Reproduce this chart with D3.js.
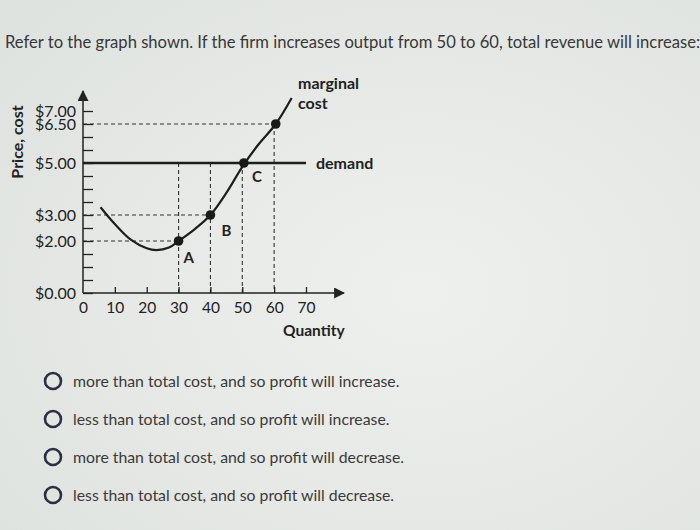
<!DOCTYPE html>
<html>
<head>
    <script src="https://d3js.org/d3.v7.min.js"></script>
    <style>
        body { margin: 0; background: #e8eae6; }
        text { font-family: Lato, "Open Sans", sans-serif; }
    </style>
</head>
<body>
<div id="grafik"></div>

<script>
    // chart values
    var question = "Refer to the graph shown. If the firm increases output from 50 to 60, total revenue will increase:";
    var answers = [
        "more than total cost, and so profit will increase.",
        "less than total cost, and so profit will increase.",
        "more than total cost, and so profit will decrease.",
        "less than total cost, and so profit will decrease."
    ];

    var xTicks = [0, 10, 20, 30, 40, 50, 60, 70];
    var yTicks = [0, 0.5, 1, 1.5, 2, 2.5, 3, 3.5, 4, 4.5, 5, 5.5, 6, 6.5, 7];
    var yLabels = [0, 2, 3, 5, 6.5, 7];

    var demandPrice = 5;

    // marginal cost curve
    var mcQty   = [5.5, 10, 15, 20, 23, 27, 30, 35, 40, 45, 50, 55, 60.5, 65.5];
    var mcPrice = [3.3, 2.65, 2.05, 1.72, 1.65, 1.75, 2.0, 2.45, 3.0, 3.85, 4.85, 5.7, 6.5, 7.5];

    // marked points
    var ptName  = ["A", "B", "C", ""];
    var ptQty   = [30, 40, 50.5, 60.5];
    var ptPrice = [2, 3, 5, 6.5];

    // dashed guides: [q1, p1, q2, p2]
    var guides = [
        [0, 6.5, 60.5, 6.5],
        [0, 3, 40, 3],
        [0, 2, 30, 2],
        [30, 5, 30, 0],
        [40, 5, 40, 0],
        [50, 5, 50, 0],
        [60, 6.5, 60, 0]
    ];

    var svg = d3.select("#grafik")
        .append("svg")
        .attr("width", 700)
        .attr("height", 530);

    var defs = svg.append("defs");
    defs.append("marker")
        .attr("id", "arrow")
        .attr("viewBox", "0 0 10 10")
        .attr("refX", 9).attr("refY", 5)
        .attr("markerWidth", 11).attr("markerHeight", 11)
        .attr("markerUnits", "userSpaceOnUse")
        .attr("orient", "auto")
        .append("path")
        .attr("d", "M0,0 L10,5 L0,10 Z")
        .attr("fill", "#222");

    var bg = defs.append("radialGradient").attr("id", "bg")
        .attr("cx", "60%").attr("cy", "55%").attr("r", "75%");
    bg.append("stop").attr("offset", "0%").attr("stop-color", "#eef0ed");
    bg.append("stop").attr("offset", "100%").attr("stop-color", "#dfe3df");
    svg.append("rect").attr("width", 700).attr("height", 530).attr("fill", "url(#bg)");

    svg.append("text")
        .attr("x", 5).attr("y", 48)
        .attr("font-size", 16.6)
        .attr("fill", "#383838")
        .text(question);

    var xScale = d3.scaleLinear().domain([0, 70]).range([83, 306]);
    var yScale = d3.scaleLinear().domain([0, 7]).range([293, 111]);

    // guides
    svg.selectAll(".guide")
        .data(guides)
        .enter()
        .append("line")
        .attr("class", "guide")
        .attr("x1", function(d) { return xScale(d[0]); })
        .attr("y1", function(d) { return yScale(d[1]); })
        .attr("x2", function(d) { return xScale(d[2]); })
        .attr("y2", function(d) { return yScale(d[3]); })
        .attr("stroke", "#333")
        .attr("stroke-width", 1.1)
        .attr("stroke-dasharray", "4,3");

    // y axis
    var yAxis = d3.axisLeft(yScale)
        .tickValues(yTicks)
        .tickSize(-10)
        .tickPadding(7)
        .tickFormat(function(d) { return yLabels.indexOf(d) >= 0 ? "$" + d.toFixed(2) : ""; });
    var gy = svg.append("g")
        .attr("transform", "translate(" + xScale(0) + ",0)")
        .call(yAxis);
    gy.select(".domain").remove();
    gy.selectAll("line").attr("stroke", "#222").attr("stroke-width", 1.3);
    gy.selectAll("text")
        .attr("font-size", 16)
        .attr("fill", "#222")
        .style("font-family", "Lato, sans-serif");

    // x axis
    var xAxis = d3.axisBottom(xScale)
        .tickValues(xTicks)
        .tickSize(-6)
        .tickPadding(9);
    var gx = svg.append("g")
        .attr("transform", "translate(0," + yScale(0) + ")")
        .call(xAxis);
    gx.select(".domain").remove();
    gx.selectAll("line").attr("stroke", "#222").attr("stroke-width", 1.3);
    gx.selectAll("text")
        .attr("font-size", 15.5)
        .attr("fill", "#222")
        .style("font-family", "Lato, sans-serif");
    gx.selectAll(".tick").filter(function(d) { return d === 0; }).select("line").remove();

    // axis lines with arrows
    svg.append("line")
        .attr("x1", xScale(0)).attr("y1", yScale(0))
        .attr("x2", xScale(0)).attr("y2", yScale(7) - 20)
        .attr("stroke", "#222").attr("stroke-width", 1.5)
        .attr("marker-end", "url(#arrow)");
    svg.append("line")
        .attr("x1", xScale(0)).attr("y1", yScale(0))
        .attr("x2", xScale(70) + 38).attr("y2", yScale(0))
        .attr("stroke", "#222").attr("stroke-width", 1.5)
        .attr("marker-end", "url(#arrow)");

    // demand
    svg.append("line")
        .attr("x1", xScale(0)).attr("y1", yScale(demandPrice))
        .attr("x2", xScale(70)).attr("y2", yScale(demandPrice))
        .attr("stroke", "#1e1e1e").attr("stroke-width", 2.4);

    // marginal cost curve
    var line = d3.line()
        .x(function(d, i) { return xScale(mcQty[i]); })
        .y(function(d, i) { return yScale(mcPrice[i]); })
        .curve(d3.curveCatmullRom.alpha(0.5));
    svg.append("path")
        .datum(mcQty)
        .attr("d", line)
        .attr("fill", "none")
        .attr("stroke", "#1e1e1e")
        .attr("stroke-width", 2.2);

    // points
    svg.selectAll(".pt")
        .data(ptQty)
        .enter()
        .append("circle")
        .attr("class", "pt")
        .attr("cx", function(d) { return xScale(d); })
        .attr("cy", function(d, i) { return yScale(ptPrice[i]); })
        .attr("r", 4.8)
        .attr("fill", "#1a1a1a");

    var ptDx = [5, 11, 8, 0], ptDy = [22, 21, 19, 0];
    svg.selectAll(".ptlab")
        .data(ptName)
        .enter()
        .append("text")
        .attr("x", function(d, i) { return xScale(ptQty[i]) + ptDx[i]; })
        .attr("y", function(d, i) { return yScale(ptPrice[i]) + ptDy[i]; })
        .attr("font-size", 15)
        .attr("font-weight", "bold")
        .attr("fill", "#222")
        .text(function(d) { return d; });

    // curve labels
    var lab = svg.append("g").attr("font-weight", "bold").attr("font-size", 16).attr("fill", "#222");
    lab.append("text").attr("x", 298).attr("y", 89).text("marginal");
    lab.append("text").attr("x", 298).attr("y", 109).text("cost");
    lab.append("text").attr("x", 316).attr("y", 169).text("demand");
    lab.append("text").attr("x", 283).attr("y", 336).attr("font-size", 15.5).text("Quantity");
    lab.append("text")
        .attr("transform", "translate(23,142) rotate(-90)")
        .attr("text-anchor", "middle")
        .text("Price, cost");

    // answer choices
    var opt = svg.selectAll(".opt")
        .data(answers)
        .enter()
        .append("g")
        .attr("class", "opt")
        .attr("transform", function(d, i) { return "translate(0," + (381 + i * 38) + ")"; });
    opt.append("circle")
        .attr("cx", 53).attr("cy", 0).attr("r", 8)
        .attr("fill", "none")
        .attr("stroke", "#2c3142")
        .attr("stroke-width", 2.6);
    opt.append("text")
        .attr("x", 73).attr("y", 5.5)
        .attr("font-size", 15.8)
        .attr("fill", "#3a3a3a")
        .text(function(d) { return d; });
</script>
</body>
</html>
